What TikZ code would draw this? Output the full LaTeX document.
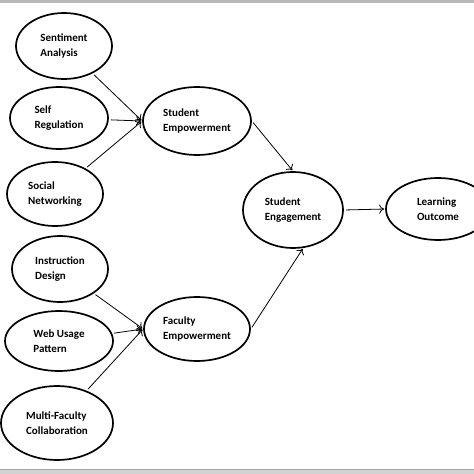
\documentclass[tikz,border=0pt]{standalone}
\usepackage{fontspec}
\setmainfont{Carlito}
\usetikzlibrary{shapes.geometric, arrows.meta}
\begin{document}
\begin{tikzpicture}[x=1pt, y=-1pt, auto, >={To[length=5pt, width=9pt]},
	construct/.style={ellipse, draw, line width=1.7pt, inner sep=0pt, align=left,
		font=\fontsize{11}{14.5}\selectfont\bfseries},
	link/.style={->, line width=0.8pt, shorten <=2pt, shorten >=1pt}]
	\useasboundingbox (0,0) rectangle (474,474);
	\fill[gray!55] (0,0) rectangle (474,2.5);
	\fill[gray!35] (0,469) rectangle (474,474);
	\draw[gray!70, line width=1pt] (0,469.5) -- (474,469.5);

	\node[construct, minimum width=96pt, minimum height=66pt] (sa) at (64,46) {Sentiment\\Analysis};
	\node[construct, minimum width=98pt, minimum height=62pt] (sr) at (59,118) {Self\\Regulation};
	\node[construct, minimum width=96pt, minimum height=64pt] (sn) at (55,194) {Social\\Networking};

	\node[construct, minimum width=96pt, minimum height=66pt] (id) at (60,269) {Instruction\\Design};
	\node[construct, minimum width=108pt, minimum height=60pt] (wu) at (59,341) {Web Usage\\Pattern};
	\node[construct, minimum width=112pt, minimum height=74pt] (mf) at (57,423) {Multi-Faculty\\Collaboration};

	\node[construct, minimum width=108pt, minimum height=68pt] (se) at (197,121) {Student\\Empowerment};
	\node[construct, minimum width=106pt, minimum height=64pt] (fe) at (197,329) {Faculty\\Empowerment};

	\node[construct, minimum width=100pt, minimum height=76pt] (eng) at (293,210) {Student\\Engagement};
	\node[construct, minimum width=104pt, minimum height=62pt] (lo) at (438,209) {Learning\\Outcome};

	\draw[link] (sa) to (se.west);
	\draw[link] (sr) to (se.west);
	\draw[link] (sn) to (se.west);

	\draw[link] (id) to (fe.west);
	\draw[link] (wu) to (fe.west);
	\draw[link] (mf) to (fe.west);

	\draw[link] (se.east) to (eng.north);
	\draw[link] (fe.east) to (eng.-75);
	\draw[link] (eng.east) to (lo.west);
\end{tikzpicture}
\end{document}
